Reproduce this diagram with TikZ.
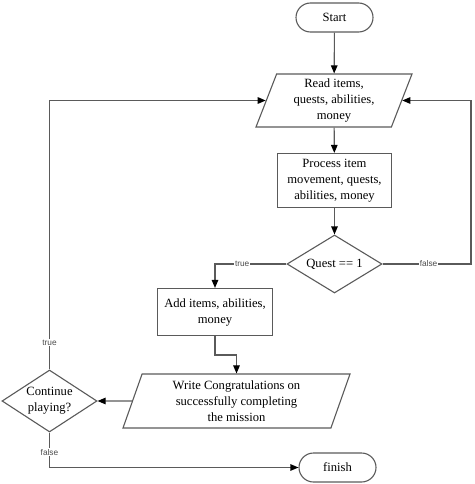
\documentclass[tikz,border=0pt]{standalone}
\usepackage{fontspec}
\setmainfont{Liberation Serif}
\newfontfamily\lblfont{Liberation Sans}
\usetikzlibrary{shapes.geometric,arrows.meta}
\definecolor{linegray}{RGB}{90,90,90}
\begin{document}
\begin{tikzpicture}[x=1pt,y=-1pt,
  every node/.style={font=\fontsize{12.6}{16}\selectfont, text=black},
  base/.style={draw=linegray, line width=1.1pt, align=center, inner sep=2pt},
  term/.style={base, rectangle, rounded corners=14.5pt, minimum width=77pt, minimum height=29pt},
  proc/.style={base, rectangle},
  io/.style={base, trapezium, trapezium stretches body, inner sep=1pt},
  dec/.style={base, diamond, inner sep=0pt},
  flow/.style={draw=linegray, line width=1.1pt, -{Triangle[length=8pt,width=6.5pt,color=black]}},
  lbl/.style={font=\lblfont\fontsize{8.3}{9}\selectfont, fill=white, inner sep=1pt, text=black!70}
]
\useasboundingbox (0,0) rectangle (474,484);

\node[term] (start) at (334.5,17.5) {Start};
\node[io, minimum width=156pt, minimum height=53pt, trapezium left angle=65.6, trapezium right angle=114.4] (read) at (334,100.5) {Read items,\\quests, abilities,\\money};
\node[proc, minimum width=114pt, minimum height=54pt] (process) at (334.5,180.5) {Process item\\movement, quests,\\abilities, money};
\node[dec, minimum width=95pt, minimum height=58pt, aspect=1.64] (quest) at (334.5,264) {Quest == 1};
\node[proc, minimum width=115pt, minimum height=47pt] (add) at (215,312) {Add items, abilities,\\money};
\node[io, minimum width=227pt, minimum height=54pt, trapezium left angle=66, trapezium right angle=114] (write) at (236.5,401) {Write Congratulations on\\successfully completing\\the mission};
\node[dec, minimum width=95pt, minimum height=62pt, aspect=1.53] (cont) at (49.5,401) {Continue\\playing?};
\node[term] (finish) at (337.5,467.5) {finish};

\coordinate (rr) at (471,264);
\coordinate (kk) at (215,355);

\draw[flow] (start) -- (read);
\draw[flow] (read) -- (process);
\draw[flow] (process) -- (quest);
\draw[flow] (quest.west) -| node[lbl, pos=0.31]{true} (add.north);
\draw[flow] (quest.east) -- node[lbl, pos=0.52]{false} (rr) |- (read.east);
\draw[flow] (add.south) -- (kk) -| (write.north);
\draw[flow] (write.west) -- (cont.east);
\draw[flow] (cont.north) |- node[lbl, pos=0.05]{true} (read.west);
\draw[flow] (cont.south) |- node[lbl, pos=0.28]{false} (finish.west);
\end{tikzpicture}
\end{document}
